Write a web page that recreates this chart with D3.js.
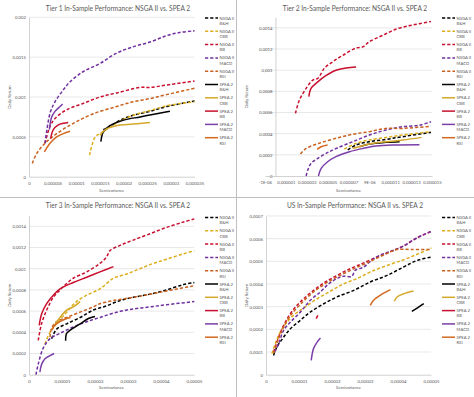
<!DOCTYPE html>
<html>
<head>
<meta charset="utf-8">
<script src="https://cdn.jsdelivr.net/npm/d3@7"></script>
<style>
  body { margin: 0; background: #fff; }
  svg { display: block; font-family: Lato, "Open Sans", sans-serif; }
</style>
</head>
<body>
<svg id="chart" width="474" height="397"></svg>
<script>
// legend entries
const methods = ["NSGA II", "NSGA II", "NSGA II", "NSGA II", "NSGA II", "SPEA 2", "SPEA 2", "SPEA 2", "SPEA 2", "SPEA 2"];
const strategies = ["B&H", "CBB", "BB", "MACD", "RSI", "B&H", "CBB", "BB", "MACD", "RSI"];

// Tier 1
const t1_nsga_bh = [[1.57e-5,5.9e-4],[1.71e-5,6.3e-4],[1.93e-5,7.1e-4],[2.2e-5,7.7e-4],[2.56e-5,8.2e-4],[2.91e-5,8.8e-4],[3.5e-5,9.5e-4]];
const t1_nsga_cbb = [[1.28e-5,2.7e-4],[1.4e-5,5.0e-4],[1.5e-5,5.4e-4],[1.71e-5,6.2e-4],[1.93e-5,7.0e-4],[2.2e-5,7.7e-4],[2.56e-5,8.3e-4],[2.91e-5,8.9e-4],[3.5e-5,9.4e-4]];
const t1_nsga_bb = [[3.39e-6,4.2e-4],[4.44e-6,6.3e-4],[5.5e-6,7.3e-4],[7.97e-6,8.4e-4],[1.15e-5,9.2e-4],[1.5e-5,1.0e-3],[1.85e-5,1.05e-3],[2.35e-5,1.12e-3],[2.56e-5,1.12e-3],[2.91e-5,1.15e-3],[3.5e-5,1.2e-3]];
const t1_nsga_macd = [[3.39e-6,4.2e-4],[4.44e-6,7.95e-4],[5.5e-6,9.4e-4],[7.26e-6,1.09e-3],[8.67e-6,1.19e-3],[1.15e-5,1.32e-3],[1.5e-5,1.42e-3],[1.85e-5,1.55e-3],[2.2e-5,1.63e-3],[2.56e-5,1.69e-3],[2.91e-5,1.77e-3],[3.19e-5,1.81e-3],[3.5e-5,1.83e-3]];
const t1_nsga_rsi = [[7e-7,1.67e-4],[1.62e-6,2.9e-4],[3.39e-6,4.2e-4],[5.85e-6,5.4e-4],[9.38e-6,6.7e-4],[1.36e-5,7.9e-4],[1.85e-5,8.8e-4],[2.2e-5,9.4e-4],[2.56e-5,9.8e-4],[2.91e-5,1.03e-3],[3.5e-5,1.11e-3]];
const t1_spea_bh = [[1.52e-5,4.4e-4],[1.57e-5,5.6e-4],[1.71e-5,6.4e-4],[2.0e-5,7.1e-4],[2.35e-5,7.5e-4],[2.7e-5,7.9e-4],[2.98e-5,8.2e-4]];
const t1_spea_cbb = [[1.5e-5,5.2e-4],[1.64e-5,6.0e-4],[1.85e-5,6.4e-4],[2.2e-5,6.6e-4],[2.56e-5,6.8e-4]];
const t1_spea_bb = [[4.58e-6,4.8e-4],[5.15e-6,5.9e-4],[6.2e-6,6.5e-4],[7.26e-6,6.7e-4],[8.3e-6,6.8e-4]];
const t1_spea_macd = [[4.3e-6,5.9e-4],[4.8e-6,7.5e-4],[5.5e-6,8.2e-4],[6.56e-6,8.8e-4],[7.1e-6,9.1e-4]];
const t1_spea_rsi = [[3.24e-6,3.1e-4],[4.44e-6,4.2e-4],[5.85e-6,5.0e-4],[7.26e-6,5.4e-4],[8.67e-6,5.7e-4]];

// Tier 2
const t2_nsga_bh = [[6.93e-6,2.46e-4],[7.73e-6,2.93e-4],[9.0e-6,3.24e-4],[1.06e-5,3.46e-4],[1.22e-5,3.72e-4],[1.49e-5,4.13e-4]];
const t2_nsga_cbb = [[6.6e-6,2.55e-4],[7.73e-6,3.09e-4],[9.0e-6,3.4e-4],[1.06e-5,3.65e-4],[1.22e-5,3.87e-4],[1.49e-5,4.19e-4]];
const t2_nsga_bb = [[1.92e-6,5.92e-4],[2.3e-6,7.18e-4],[2.94e-6,8.28e-4],[3.58e-6,9.07e-4],[4.06e-6,9.23e-4],[4.7e-6,1.02e-3],[5.5e-6,1.08e-3],[6.45e-6,1.14e-3],[7.73e-6,1.21e-3],[8.37e-6,1.22e-3],[9.0e-6,1.27e-3],[1.03e-5,1.33e-3],[1.16e-5,1.39e-3],[1.28e-5,1.42e-3],[1.38e-5,1.44e-3],[1.49e-5,1.46e-3]];
const t2_nsga_macd = [[2.94e-6,0],[3.1e-6,5.7e-5],[3.42e-6,1.2e-4],[4.06e-6,1.67e-4],[4.86e-6,2.14e-4],[5.8e-6,2.6e-4],[7.4e-6,3.24e-4],[9.0e-6,3.87e-4],[1.06e-5,4.35e-4],[1.22e-5,4.66e-4],[1.38e-5,4.8e-4],[1.49e-5,5.13e-4]];
const t2_nsga_rsi = [[2.4e-6,2.08e-4],[2.94e-6,2.6e-4],[4.2e-6,3.1e-4],[5.8e-6,3.56e-4],[7.4e-6,3.94e-4],[9.0e-6,4.19e-4],[1.06e-5,4.5e-4],[1.22e-5,4.5e-4],[1.49e-5,4.7e-4]];
const t2_spea_bh = [[8.05e-6,2.77e-4],[9.0e-6,3.02e-4],[1.06e-5,3.18e-4],[1.19e-5,3.24e-4]];
const t2_spea_cbb = [[7.4e-6,2.6e-4],[9.0e-6,3.02e-4],[1.06e-5,3.24e-4],[1.22e-5,3.4e-4],[1.4e-5,3.65e-4]];
const t2_spea_bb = [[3.2e-6,7.5e-4],[3.42e-6,8.3e-4],[4.06e-6,8.9e-4],[4.86e-6,9.5e-4],[5.8e-6,1.0e-3],[6.77e-6,1.02e-3],[7.73e-6,1.03e-3]];
const t2_spea_macd = [[4.12e-6,0],[4.38e-6,7.2e-5],[5.0e-6,1.35e-4],[5.8e-6,1.83e-4],[7.1e-6,2.3e-4],[8.37e-6,2.6e-4],[9.65e-6,2.83e-4],[1.12e-5,2.93e-4],[1.38e-5,2.96e-4]];
const t2_spea_rsi = [[4.0e-6,2.52e-4],[4.38e-6,2.77e-4],[5.0e-6,2.93e-4]];

// Tier 3
const t3_nsga_bh = [[6.87e-6,3.4e-4],[8.4e-6,4.3e-4],[1.14e-5,4.8e-4],[1.55e-5,5.4e-4],[1.95e-5,6.1e-4],[2.35e-5,6.5e-4],[2.76e-5,7.0e-4],[3.16e-5,7.3e-4],[3.67e-5,7.6e-4],[4.17e-5,8.0e-4],[4.68e-5,8.5e-4],[5.01e-5,8.7e-4]];
const t3_nsga_cbb = [[4.85e-6,2.9e-4],[6.36e-6,4.0e-4],[8.38e-6,4.8e-4],[1.14e-5,5.9e-4],[1.44e-5,6.9e-4],[1.75e-5,7.5e-4],[2.15e-5,8.1e-4],[2.56e-5,9.1e-4],[2.96e-5,9.5e-4],[3.36e-5,1.0e-3],[3.77e-5,1.05e-3],[4.17e-5,1.09e-3],[4.68e-5,1.14e-3],[5.01e-5,1.17e-3]];
const t3_nsga_bb = [[2.8e-6,3.24e-4],[3.8e-6,4.8e-4],[5.35e-6,6.1e-4],[7.37e-6,7.3e-4],[9.4e-6,8.0e-4],[1.14e-5,8.6e-4],[1.34e-5,9.1e-4],[1.75e-5,9.7e-4],[2.15e-5,1.05e-3],[2.35e-5,1.11e-3],[2.45e-5,1.17e-3],[2.76e-5,1.22e-3],[3.16e-5,1.27e-3],[3.67e-5,1.33e-3],[4.17e-5,1.39e-3],[4.68e-5,1.44e-3],[5.01e-5,1.47e-3]];
const t3_nsga_macd = [[2.1e-6,0],[2.8e-6,1.0e-4],[4.3e-6,2.5e-4],[6.36e-6,3.4e-4],[9.4e-6,3.9e-4],[1.34e-5,4.5e-4],[1.75e-5,5.0e-4],[2.15e-5,5.4e-4],[2.66e-5,5.9e-4],[3.16e-5,6.2e-4],[3.67e-5,6.4e-4],[4.17e-5,6.6e-4],[5.01e-5,6.9e-4]];
const t3_nsga_rsi = [[6.36e-6,3.55e-4],[6.87e-6,4.4e-4],[8.4e-6,5.0e-4],[1.14e-5,5.4e-4],[1.55e-5,5.9e-4],[1.95e-5,6.4e-4],[2.15e-5,6.7e-4],[2.56e-5,7.0e-4],[3.16e-5,7.3e-4],[3.67e-5,7.6e-4],[4.17e-5,7.9e-4],[5.01e-5,8.4e-4]];
const t3_spea_bh = [[1.11e-5,3.2e-4],[1.14e-5,3.9e-4],[1.29e-5,4.3e-4],[1.55e-5,4.8e-4],[1.8e-5,5.3e-4],[2.0e-5,5.5e-4]];
const t3_spea_cbb = [[7.9e-6,4.8e-4],[9.4e-6,5.4e-4],[1.14e-5,6.1e-4],[1.34e-5,6.4e-4],[1.55e-5,6.9e-4]];
const t3_spea_bb = [[3.1e-6,4.65e-4],[3.84e-6,5.75e-4],[5.35e-6,6.7e-4],[7.37e-6,7.5e-4],[9.4e-6,8.1e-4],[1.34e-5,8.7e-4],[1.75e-5,9.2e-4],[2.15e-5,9.7e-4],[2.56e-5,1.02e-3]];
const t3_spea_macd = [[3.3e-6,2.5e-5],[3.84e-6,1.0e-4],[4.85e-6,1.5e-4],[6.36e-6,1.8e-4],[7.6e-6,2.0e-4]];
const t3_spea_rsi = [[6.87e-6,4.2e-4],[7.9e-6,4.7e-4],[9.4e-6,5.0e-4],[1.14e-5,5.3e-4],[1.26e-5,5.4e-4]];

// US
const us_nsga_bh = [[2.3e-6,8.5e-5],[3.3e-6,1.22e-4],[5.35e-6,1.66e-4],[7.4e-6,2.03e-4],[1.04e-5,2.4e-4],[1.34e-5,2.76e-4],[1.75e-5,3.13e-4],[2.15e-5,3.43e-4],[2.66e-5,3.72e-4],[3.16e-5,4.09e-4],[3.67e-5,4.38e-4],[4.17e-5,4.75e-4],[4.58e-5,5.04e-4],[5.01e-5,5.19e-4]];
const us_nsga_cbb = [[1.8e-6,9.3e-5],[2.8e-6,1.37e-4],[4.3e-6,1.88e-4],[6.36e-6,2.32e-4],[8.9e-6,2.69e-4],[1.14e-5,2.94e-4],[1.55e-5,3.35e-4],[1.95e-5,3.68e-4],[2.35e-5,4.01e-4],[2.76e-5,4.24e-4],[3.16e-5,4.53e-4],[3.67e-5,4.82e-4],[4.17e-5,5.07e-4],[4.58e-5,5.31e-4],[5.01e-5,5.59e-4]];
const us_nsga_bb = [[2.3e-6,1.0e-4],[2.8e-6,1.22e-4],[3.84e-6,1.66e-4],[5.35e-6,2.18e-4],[7.37e-6,2.69e-4],[9.4e-6,3.06e-4],[1.14e-5,3.35e-4],[1.44e-5,3.72e-4],[1.75e-5,4.04e-4],[2.15e-5,4.38e-4],[2.56e-5,4.68e-4],[2.96e-5,4.93e-4],[3.36e-5,5.19e-4],[3.57e-5,5.31e-4],[3.87e-5,5.49e-4],[4.17e-5,5.68e-4],[4.58e-5,6.04e-4],[5.01e-5,6.32e-4]];
const us_nsga_macd = [[2.6e-6,1.0e-4],[3.84e-6,1.37e-4],[5.35e-6,1.96e-4],[7.4e-6,2.32e-4],[1.04e-5,2.76e-4],[1.34e-5,3.28e-4],[1.65e-5,3.65e-4],[1.9e-5,4.01e-4],[2.15e-5,4.24e-4],[2.35e-5,4.34e-4],[2.6e-5,4.34e-4],[2.7e-5,4.6e-4],[2.96e-5,4.75e-4],[3.26e-5,5.12e-4],[3.57e-5,5.34e-4],[3.87e-5,5.49e-4],[4.17e-5,5.68e-4],[4.58e-5,6.04e-4],[5.01e-5,6.32e-4]];
const us_nsga_rsi = [[2.3e-6,9.5e-5],[3.84e-6,1.6e-4],[5.35e-6,2.1e-4],[7.37e-6,2.6e-4],[1.04e-5,3.1e-4],[1.44e-5,3.65e-4],[1.95e-5,4.15e-4],[2.56e-5,4.6e-4],[3.16e-5,5.0e-4],[3.67e-5,5.35e-4],[3.97e-5,5.52e-4],[4.4e-5,5.52e-4],[5.01e-5,5.52e-4]];
const us_spea_bh = [[4.42e-5,2.79e-4],[4.58e-5,2.94e-4],[4.78e-5,3.13e-4]];
const us_spea_cbb = [[3.89e-5,3.24e-4],[3.97e-5,3.43e-4],[4.17e-5,3.57e-4],[4.47e-5,3.69e-4]];
const us_spea_bb = [[1.52e-5,2.47e-4],[1.57e-5,2.62e-4]];
const us_spea_macd = [[1.37e-5,6.3e-5],[1.44e-5,1.15e-4],[1.55e-5,1.44e-4],[1.65e-5,1.62e-4]];
const us_spea_rsi = [[3.16e-5,3.06e-4],[3.26e-5,3.28e-4],[3.46e-5,3.5e-4],[3.77e-5,3.75e-4]];

// ticks
const t1_yticks = [0, 0.0005, 0.001, 0.0015, 0.002];
const t1_ylabels = ["0", "0,0005", "0,001", "0,0015", "0,002"];
const t1_xticks = [0, 5e-6, 1e-5, 1.5e-5, 2e-5, 2.5e-5, 3e-5, 3.5e-5];
const t1_xlabels = ["0", "0,000005", "0,00001", "0,000015", "0,00002", "0,000025", "0,00003", "0,000035"];
const t2_yticks = [0, 0.0002, 0.0004, 0.0006, 0.0008, 0.001, 0.0012, 0.0014];
const t2_ylabels = ["0", "0,0002", "0,0004", "0,0006", "0,0008", "0,001", "0,0012", "0,0014"];
const t2_xticks = [-1e-6, 1e-6, 3e-6, 5e-6, 7e-6, 9e-6, 1.1e-5, 1.3e-5, 1.5e-5];
const t2_xlabels = ["-1E-06", "0,000001", "0,000003", "0,000005", "0,000007", "9E-06", "0,000011", "0,000013", "0,000015"];
const t3_yticks = t2_yticks;
const t3_ylabels = t2_ylabels;
const t3_xticks = [0, 1e-5, 2e-5, 3e-5, 4e-5, 5e-5];
const t3_xlabels = ["0", "0,00001", "0,00002", "0,00003", "0,00004", "0,00005"];
const us_yticks = [0, 0.0001, 0.0002, 0.0003, 0.0004, 0.0005, 0.0006, 0.0007];
const us_ylabels = ["0", "0,0001", "0,0002", "0,0003", "0,0004", "0,0005", "0,0006", "0,0007"];

const colors = ["#000000", "#dcae1d", "#c8102e", "#7030a0", "#c8621e", "#000000", "#d4a82a", "#c8102e", "#7a3fa8", "#d2691e"];

const panels = [
  { title: "Tier 1 In-Sample Performance: NSGA II vs. SPEA 2", ox: 0, oy: 0, xr: [29, 194.5], yr: [176.7, 17.3], xd: [0, 3.5e-5], yd: [0, 0.002],
    xt: t1_xticks, xl: t1_xlabels, yt: t1_yticks, yl: t1_ylabels, leg0: 18,
    series: [t1_nsga_bh, t1_nsga_cbb, t1_nsga_bb, t1_nsga_macd, t1_nsga_rsi, t1_spea_bh, t1_spea_cbb, t1_spea_bb, t1_spea_macd, t1_spea_rsi] },
  { title: "Tier 2 In-Sample Performance: NSGA II vs. SPEA 2", ox: 237, oy: 0, xr: [28, 195], yr: [176, 17.3], xd: [-1e-6, 1.5e-5], yd: [0, 0.0015],
    xt: t2_xticks, xl: t2_xlabels, yt: t2_yticks, yl: t2_ylabels, leg0: 18,
    series: [t2_nsga_bh, t2_nsga_cbb, t2_nsga_bb, t2_nsga_macd, t2_nsga_rsi, t2_spea_bh, t2_spea_cbb, t2_spea_bb, t2_spea_macd, t2_spea_rsi] },
  { title: "Tier 3 In-Sample Performance: NSGA II vs. SPEA 2", ox: 0, oy: 197, xr: [29, 194], yr: [177.7, 18.7], xd: [0, 5e-5], yd: [0, 0.0015],
    xt: t3_xticks, xl: t3_xlabels, yt: t3_yticks, yl: t3_ylabels, leg0: 20.5,
    series: [t3_nsga_bh, t3_nsga_cbb, t3_nsga_bb, t3_nsga_macd, t3_nsga_rsi, t3_spea_bh, t3_spea_cbb, t3_spea_bb, t3_spea_macd, t3_spea_rsi] },
  { title: "US In-Sample Performance: NSGA II vs. SPEA 2", ox: 237, oy: 197, xr: [29, 194], yr: [177.7, 19], xd: [0, 5e-5], yd: [0, 0.0007],
    xt: t3_xticks, xl: t3_xlabels, yt: us_yticks, yl: us_ylabels, leg0: 20.5,
    series: [us_nsga_bh, us_nsga_cbb, us_nsga_bb, us_nsga_macd, us_nsga_rsi, us_spea_bh, us_spea_cbb, us_spea_bb, us_spea_macd, us_spea_rsi] }
];

const svg = d3.select("#chart");
svg.append("rect").attr("width", 474).attr("height", 397).attr("fill", "#fff");

panels.forEach(p => {
  const g = svg.append("g").attr("transform", `translate(${p.ox},${p.oy})`);
  const x = d3.scaleLinear().domain(p.xd).range(p.xr);
  const y = d3.scaleLinear().domain(p.yd).range(p.yr);
  const x0 = x(Math.max(0, p.xd[0]));

  // gridlines
  g.append("g").selectAll("line").data(p.yt.filter(v => v > 0)).join("line")
    .attr("x1", p.xr[0]).attr("x2", p.xr[1])
    .attr("y1", d => y(d)).attr("y2", d => y(d))
    .attr("stroke", "#d9d9d9").attr("stroke-width", 0.6);

  // axes
  const yAxis = d3.axisLeft(y).tickValues(p.yt).tickSize(0).tickPadding(3)
    .tickFormat((d, i) => p.yl[i]);
  const ya = g.append("g").attr("transform", `translate(${x0},0)`).call(yAxis);
  ya.select(".domain").attr("stroke", "#bfbfbf").attr("stroke-width", 0.7);

  const xAxis = d3.axisBottom(x).tickValues(p.xt).tickSize(0).tickPadding(5)
    .tickFormat((d, i) => p.xl[i]);
  const xa = g.append("g").attr("transform", `translate(0,${y(0)})`).call(xAxis);
  xa.select(".domain").attr("stroke", "#bfbfbf").attr("stroke-width", 0.7);

  g.selectAll(".tick text").attr("font-size", 4.3).attr("fill", "#595959")
    .attr("font-family", "Lato, 'Open Sans', sans-serif");

  // series
  const line = d3.line().x(d => x(d[0])).y(d => y(d[1])).curve(d3.curveCatmullRom.alpha(0.5));
  p.series.forEach((s, i) => {
    g.append("path").datum(s).attr("d", line)
      .attr("fill", "none").attr("stroke", colors[i]).attr("stroke-width", 1.5)
      .attr("stroke-dasharray", i < 5 ? "3.2,2" : null);
  });

  // titles
  g.append("text").attr("x", 118).attr("y", 10.5).attr("text-anchor", "middle")
    .attr("font-size", 6.6).attr("fill", "#595959").text(p.title);
  g.append("text").attr("x", (p.xr[0] + p.xr[1]) / 2).attr("y", 192).attr("text-anchor", "middle")
    .attr("font-size", 4.3).attr("fill", "#595959").text("Semivariance");
  g.append("text").attr("transform", `translate(11,${(p.yr[0] + p.yr[1]) / 2}) rotate(-90)`)
    .attr("text-anchor", "middle").attr("font-size", 4.3).attr("fill", "#595959").text("Daily Return");

  // legend
  const leg = g.append("g");
  methods.forEach((m, i) => {
    const ly = p.leg0 + i * 13.3;
    leg.append("line").attr("x1", 205).attr("x2", 218).attr("y1", ly).attr("y2", ly)
      .attr("stroke", colors[i]).attr("stroke-width", 1.5)
      .attr("stroke-dasharray", i < 5 ? "3.2,2" : null);
    leg.append("text").attr("x", 219.5).attr("y", ly + 1.5).attr("font-size", 4.2).attr("fill", "#595959").text(m);
    leg.append("text").attr("x", 219.5).attr("y", ly + 6.8).attr("font-size", 4.2).attr("fill", "#595959").text(strategies[i]);
  });
});

// panel separators
svg.append("line").attr("x1", 236.5).attr("x2", 236.5).attr("y1", 0).attr("y2", 397).attr("stroke", "#bfbfbf");
svg.append("line").attr("x1", 0).attr("x2", 474).attr("y1", 197.5).attr("y2", 197.5).attr("stroke", "#bfbfbf");
</script>
</body>
</html>
